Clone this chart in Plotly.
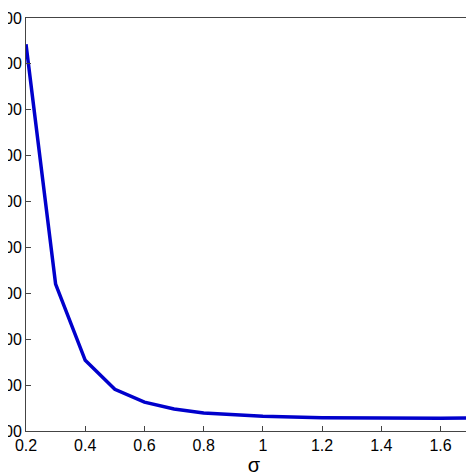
import plotly.graph_objects as go

sigma = [0.2, 0.3, 0.4, 0.5, 0.6, 0.7, 0.8, 0.9, 1.0, 1.2, 1.4, 1.6, 1.8]
values = [943, 420, 254, 191, 163, 148, 139, 135, 132, 129, 128, 128, 129]
yticks = [100, 200, 300, 400, 500, 600, 700, 800, 900, 1000]

fig = go.Figure(go.Scatter(x=sigma, y=values, mode="lines",
                           line=dict(color="#0000cc", width=3.5)))
fig.update_layout(
    width=474, height=474, margin=dict(l=18, r=0, t=10, b=51),
    paper_bgcolor="white", plot_bgcolor="white", showlegend=False,
    font=dict(family="Liberation Sans, Arial", size=16, color="black"),
)
fig.update_xaxes(range=[0.2, 1.74], tickvals=[0.2,0.4,0.6,0.8,1,1.2,1.4,1.6],
                 ticktext=["0.2","0.4","0.6","0.8","1","1.2","1.4","1.6"],
                 showgrid=False, zeroline=False, showline=True, mirror=True,
                 linecolor="#444", ticks="inside", ticklen=5, tickcolor="#444",
                 automargin=False,
                 title=dict(text="σ", font=dict(size=20), standoff=2))
fig.update_yaxes(range=[100, 1000], tickvals=yticks, showgrid=False, zeroline=False,
                 showline=True, mirror=True, linecolor="#444", ticks="inside",
                 ticklen=5, tickcolor="#444", automargin=False)
fig.write_html("out.html")
